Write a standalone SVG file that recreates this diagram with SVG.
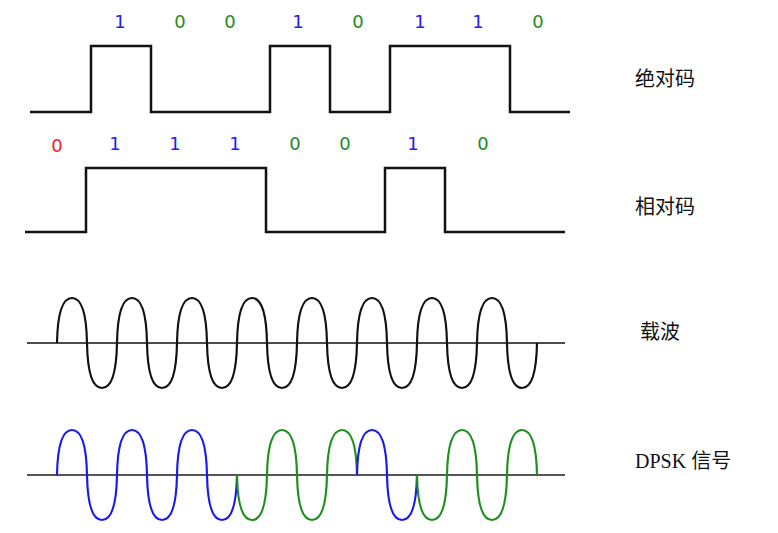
<svg xmlns="http://www.w3.org/2000/svg" width="778" height="533" viewBox="0 0 778 533">
<style>
.sq{fill:none;stroke:#111;stroke-width:2.5}
.ax{stroke:#111;stroke-width:1.5}
.w{fill:none;stroke-width:2.2}
.b{font-family:"DejaVu Sans",sans-serif;font-size:18px;text-anchor:middle}
.lb{font-family:"Liberation Serif","Noto Sans CJK SC",serif;font-size:20px;fill:#111}
</style>
<rect width="778" height="533" fill="#fff"/>
<g id="abs">
<path class="sq" d="M30,112 H91 V46 H151 V112 H270 V46 H330 V112 H390 V46 H510 V112 H570"/>
<g class="b">
<text x="120" y="28" fill="#2222ee">1</text><text x="180" y="28" fill="#228B22">0</text><text x="230" y="28" fill="#228B22">0</text><text x="298" y="28" fill="#2222ee">1</text><text x="358" y="28" fill="#228B22">0</text><text x="420" y="28" fill="#2222ee">1</text><text x="478" y="28" fill="#2222ee">1</text><text x="538" y="28" fill="#228B22">0</text>
</g>
<text class="lb" x="635" y="86">绝对码</text>
</g>
<g id="rel">
<path class="sq" d="M25,232 H86 V168 H266 V232 H385 V168 H445 V232 H565"/>
<g class="b">
<text x="57" y="152" fill="#ee2222">0</text><text x="115" y="150" fill="#2222ee">1</text><text x="175" y="150" fill="#2222ee">1</text><text x="235" y="150" fill="#2222ee">1</text><text x="295" y="150" fill="#228B22">0</text><text x="345" y="150" fill="#228B22">0</text><text x="413" y="150" fill="#2222ee">1</text><text x="483" y="150" fill="#228B22">0</text>
</g>
<text class="lb" x="635" y="214">相对码</text>
</g>
<g id="carrier">
<line class="ax" x1="27" y1="343" x2="565" y2="343"/>
<path class="w" stroke="#111" d="M57,343 c0.5,-28 5,-45 15,-45 c10,0 14.5,17 15,45 c0.5,28 5,45 15,45 c10,0 14.5,-17 15,-45 c0.5,-28 5,-45 15,-45 c10,0 14.5,17 15,45 c0.5,28 5,45 15,45 c10,0 14.5,-17 15,-45 c0.5,-28 5,-45 15,-45 c10,0 14.5,17 15,45 c0.5,28 5,45 15,45 c10,0 14.5,-17 15,-45 c0.5,-28 5,-45 15,-45 c10,0 14.5,17 15,45 c0.5,28 5,45 15,45 c10,0 14.5,-17 15,-45 c0.5,-28 5,-45 15,-45 c10,0 14.5,17 15,45 c0.5,28 5,45 15,45 c10,0 14.5,-17 15,-45 c0.5,-28 5,-45 15,-45 c10,0 14.5,17 15,45 c0.5,28 5,45 15,45 c10,0 14.5,-17 15,-45 c0.5,-28 5,-45 15,-45 c10,0 14.5,17 15,45 c0.5,28 5,45 15,45 c10,0 14.5,-17 15,-45 c0.5,-28 5,-45 15,-45 c10,0 14.5,17 15,45 c0.5,28 5,45 15,45 c10,0 14.5,-17 15,-45"/>
<text class="lb" x="640" y="339">载波</text>
</g>
<g id="dpsk">
<line x1="27" y1="475" x2="565" y2="475" stroke="#555" stroke-width="2"/>
<path class="w" stroke="#1a1aee" d="M57,475 c0.5,-28 5,-45 15,-45 c10,0 14.5,17 15,45 c0.5,28 5,45 15,45 c10,0 14.5,-17 15,-45 c0.5,-28 5,-45 15,-45 c10,0 14.5,17 15,45 c0.5,28 5,45 15,45 c10,0 14.5,-17 15,-45 c0.5,-28 5,-45 15,-45 c10,0 14.5,17 15,45 c0.5,28 5,45 15,45 c10,0 14.5,-17 15,-45"/>
<path class="w" stroke="#1f8f1f" d="M237,475 c0.5,28 5,45 15,45 c10,0 14.5,-17 15,-45 c0.5,-28 5,-45 15,-45 c10,0 14.5,17 15,45 c0.5,28 5,45 15,45 c10,0 14.5,-17 15,-45 c0.5,-28 5,-45 15,-45 c10,0 14.5,17 15,45"/>
<path class="w" stroke="#1a1aee" d="M357,475 c0.5,-28 5,-45 15,-45 c10,0 14.5,17 15,45 c0.5,28 5,45 15,45 c10,0 14.5,-17 15,-45"/>
<path class="w" stroke="#1f8f1f" d="M417,475 c0.5,28 5,45 15,45 c10,0 14.5,-17 15,-45 c0.5,-28 5,-45 15,-45 c10,0 14.5,17 15,45 c0.5,28 5,45 15,45 c10,0 14.5,-17 15,-45 c0.5,-28 5,-45 15,-45 c10,0 14.5,17 15,45"/>
<text class="lb" x="635" y="468">DPSK 信号</text>
</g>
</svg>
